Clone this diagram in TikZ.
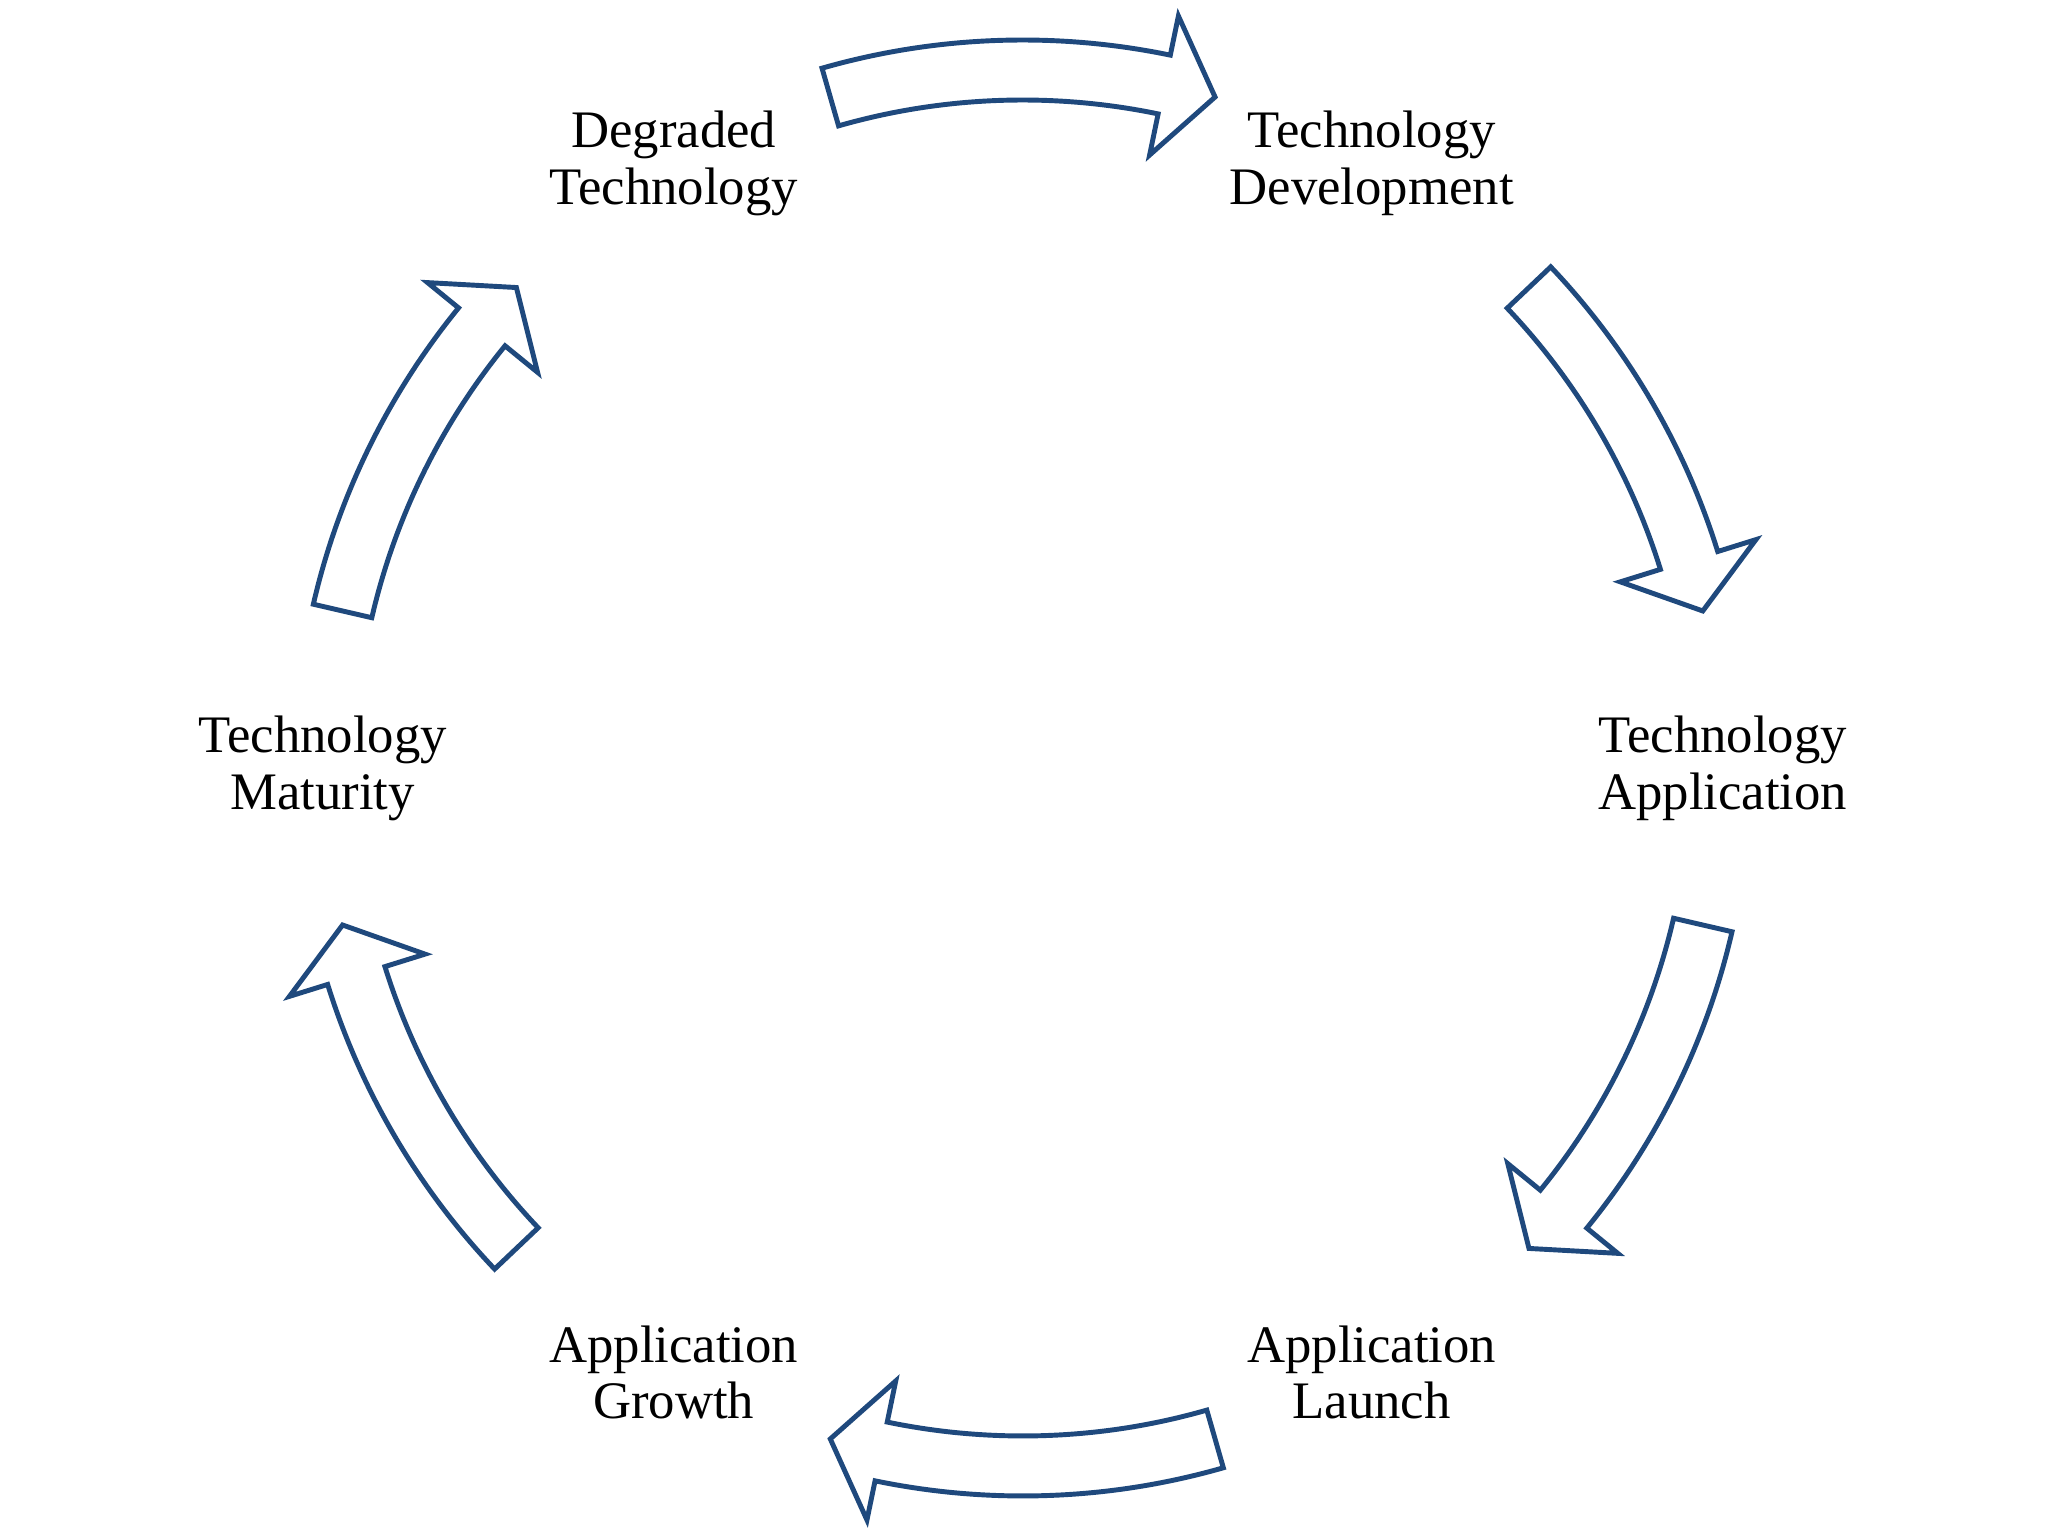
\documentclass[tikz,border=0pt]{standalone}
\usepackage{fontspec}
\setmainfont{Liberation Serif}
\usepackage{xcolor}
\usepackage{tikz}

\definecolor{arrowblue}{RGB}{31,73,125}

% curved block arrow on the cycle, from tail angle #1 to tip angle #2 (clockwise)
\newcommand{\cyclearrow}[2]{%
  \draw[blockarrow] (#1:7.28) arc[start angle=#1, end angle=#2+4.3, radius=7.28]
    -- ({#2+4.3}:7.68) -- (#2:6.98) -- ({#2+4.3}:6.26)
    -- ({#2+4.3}:6.68) arc[start angle=#2+4.3, end angle=#1, radius=6.68] -- cycle;}

\begin{document}
\begin{tikzpicture}[
    stage/.style={align=center, inner sep=0pt, font=\fontsize{15}{16.2}\selectfont},
    blockarrow/.style={draw=arrowblue, fill=white, line width=1.4pt}
]
\useasboundingbox (-10.227,-7.68) rectangle (10.253,7.68);

\node[stage] (degraded) at (120:6.98) {Degraded\\Technology};
\node[stage] (develop) at (60:6.98) {Technology\\Development};
\node[stage] (apply) at (0:7.0) {Technology\\Application};
\node[stage] (launch) at (-60:6.98) {Application\\Launch};
\node[stage] (growth) at (-120:6.98) {Application\\Growth};
\node[stage] (mature) at (180:7.0) {Technology\\Maturity};

\cyclearrow{106}{74}
\cyclearrow{43.5}{13}
\cyclearrow{-13}{-43.5}
\cyclearrow{-74}{-106}
\cyclearrow{-136.5}{-167}
\cyclearrow{167}{136.5}
\end{tikzpicture}
\end{document}
